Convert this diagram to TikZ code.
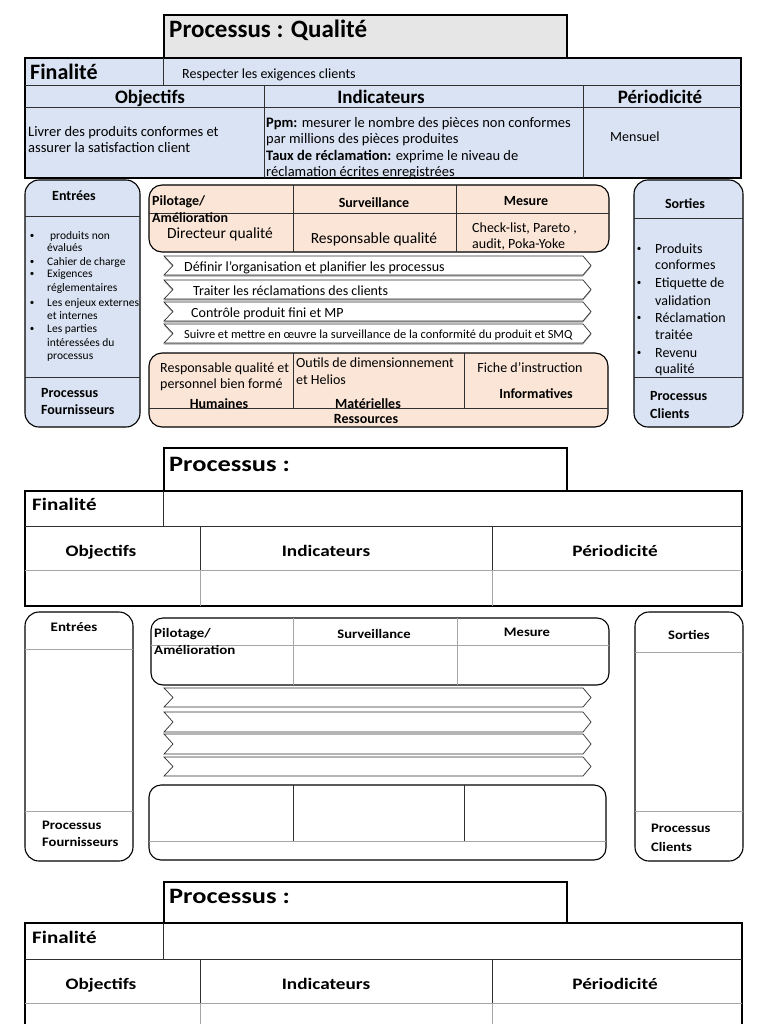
\documentclass[tikz,border=0pt]{standalone}
\usepackage{fontspec}
\setmainfont{Carlito}
\definecolor{bluefill}{HTML}{DAE3F3}
\definecolor{peach}{HTML}{FBE5D6}
\definecolor{titlegray}{HTML}{E7E6E6}
\definecolor{lgray}{HTML}{A6A6A6}
\definecolor{dline}{HTML}{303030}
\tikzset{
  lt/.style={inner sep=0pt, anchor=mid west},
  ct/.style={inner sep=0pt, anchor=mid},
  box/.style={draw=black, line width=1.1pt},
  inl/.style={draw=dline, line width=0.8pt},
  gl/.style={draw=lgray, line width=0.8pt},
  chevbox/.style={draw=dline, line width=0.7pt, fill=white},
  chevsh/.style={fill=black!35},
  f14/.style={font=\fontsize{14}{16}\selectfont, yshift=-3pt},
  f145/.style={font=\fontsize{14.5}{17}\selectfont, yshift=-3pt},
  b14/.style={font=\fontsize{14}{16}\selectfont\bfseries, yshift=-3pt},
  f15/.style={font=\fontsize{15.5}{18}\selectfont, yshift=-3pt},
  fsm/.style={font=\fontsize{11.5}{13}\selectfont, yshift=-2pt},
  fsv/.style={font=\fontsize{12.4}{14}\selectfont, yshift=-2.5pt},
  bul/.style={font=\fontsize{9}{10}\selectfont, yshift=-2pt},
  hd/.style={font=\fontsize{19}{22}\selectfont\bfseries, yshift=-4pt},
  ttl/.style={font=\fontsize{25}{28}\selectfont\bfseries, yshift=-6pt},
  finl/.style={font=\fontsize{22}{26}\selectfont\bfseries, yshift=-5pt},
  ttlb/.style={font=\fontsize{22}{26}\selectfont\bfseries, yshift=-4pt},
  finb/.style={font=\fontsize{17.5}{20}\selectfont\bfseries, yshift=-3pt},
  hdb/.style={font=\fontsize{16}{19}\selectfont\bfseries, yshift=-3pt},
  lb/.style={font=\fontsize{13}{15}\selectfont\bfseries, yshift=-2.5pt},
}
\begin{document}
\begin{tikzpicture}[x=1pt,y=-1pt]
\useasboundingbox (0,0) rectangle (768,1024);
\clip (0,0) rectangle (768,1024);
\fill[white] (0,0) rectangle (768,1024);

%% ================= SECTION 1 =================
\draw[box, fill=titlegray] (164,15) rectangle (567,58);
\node[lt, ttl] (t1) at (169,29) {Processus : Qualité};

\draw[box, fill=bluefill] (25,58) rectangle (741,178);
\draw[inl] (25,85) -- (741,85);
\draw[inl] (25,107) -- (741,107);
\draw[inl] (163,58) -- (163,85);
\draw[inl] (264,85) -- (264,178);
\draw[inl] (583,85) -- (583,178);

\node[lt, finl] (fin1) at (30,72) {Finalité};
\node[lt, f14] (resp1) at (182,73) {Respecter les exigences clients};
\node[ct, hd] (obj1) at (150,97) {Objectifs};
\node[ct, hd] (ind1) at (381,97) {Indicateurs};
\node[ct, hd] (per1) at (660,97) {Périodicité};
\node[lt, f145] (liv1) at (28,131) {Livrer des produits conformes et};
\node[lt, f145] (liv2) at (28,147) {assurer la satisfaction client};
\node[lt, f145] (ia) at (266,122) {\textbf{Ppm:} mesurer le nombre des pièces non conformes};
\node[lt, f145] (ib) at (266,138) {par millions des pièces produites};
\node[lt, f145] (ic) at (266,155) {\textbf{Taux de réclamation:} exprime le niveau de};
\node[lt, f145] (id) at (266,171) {réclamation écrites enregistrées};
\node[lt, f14] (mens) at (610,136) {Mensuel};

% Entrées
\draw[box, fill=bluefill, rounded corners=14pt] (25,180) rectangle (140,427);
\draw[inl] (25,216) -- (140,216);
\draw[inl] (25,377) -- (140,377);
\node[ct, b14] (ent1) at (74,195) {Entrées};
\node[ct, bul] (eb1) at (32,234) {•};
\node[ct, bul] (eb2) at (32,260) {•};
\node[ct, bul] (eb3) at (32,272) {•};
\node[ct, bul] (eb4) at (32,301) {•};
\node[ct, bul] (eb5) at (32,327) {•};
\node[lt, fsm] (e1) at (50,235) {produits non};
\node[lt, fsm] (e2) at (47,247) {évalués};
\node[lt, fsm] (e3) at (47,261) {Cahier de charge};
\node[lt, fsm] (e4) at (47,273) {Exigences};
\node[lt, fsm] (e5) at (47,287) {réglementaires};
\node[lt, fsm] (e6) at (47,302) {Les enjeux externes};
\node[lt, fsm] (e7) at (47,315) {et internes};
\node[lt, fsm] (e8) at (47,328) {Les parties};
\node[lt, fsm] (e9) at (47,342) {intéressées du};
\node[lt, fsm] (e10) at (47,355) {processus};
\node[lt, b14] (pf1) at (41,392) {Processus};
\node[lt, b14] (pf2) at (41,409) {Fournisseurs};

% Pilotage
\draw[box, fill=peach, rounded corners=13pt] (149,185) rectangle (609,252);
\draw[inl] (293,185) -- (293,252);
\draw[inl] (456,185) -- (456,252);
\draw[inl] (149,213) -- (609,213);
\node[lt, b14] (pil1) at (152,200) {Pilotage/};
\node[lt, b14] (ame1) at (152,217) {Amélioration};
\node[ct, f15] (dir1) at (220,233) {Directeur qualité};
\node[ct, b14] (sur1) at (374,202) {Surveillance};
\node[ct, f15] (rq1) at (374,238) {Responsable qualité};
\node[ct, b14] (mes1) at (526,200) {Mesure};
\node[lt, f14] (ck1) at (472,227) {Check-list, Pareto ,};
\node[lt, f14] (ck2) at (472,243) {audit, Poka-Yoke};

% Chevrons
\fill[chevsh] (164,257.5) -- (583,257.5) -- (591,267) -- (583,276.5) -- (164,276.5) -- (173,267) -- cycle;
\fill[chevsh] (164,281.5) -- (583,281.5) -- (591,291) -- (583,300.5) -- (164,300.5) -- (173,291) -- cycle;
\fill[chevsh] (164,303.5) -- (583,303.5) -- (591,313) -- (583,322.5) -- (164,322.5) -- (173,313) -- cycle;
\fill[chevsh] (164,325.5) -- (583,325.5) -- (591,335) -- (583,344.5) -- (164,344.5) -- (173,335) -- cycle;
\draw[chevbox] (164,256) -- (583,256) -- (591,265.5) -- (583,275) -- (164,275) -- (173,265.5) -- cycle;
\draw[chevbox] (164,280) -- (583,280) -- (591,289.5) -- (583,299) -- (164,299) -- (173,289.5) -- cycle;
\draw[chevbox] (164,302) -- (583,302) -- (591,311.5) -- (583,321) -- (164,321) -- (173,311.5) -- cycle;
\draw[chevbox] (164,324) -- (583,324) -- (591,333.5) -- (583,343) -- (164,343) -- (173,333.5) -- cycle;
\node[lt, f14] (c1) at (184,266) {Définir l’organisation et planifier les processus};
\node[lt, f14] (c2) at (193,290) {Traiter les réclamations des clients};
\node[lt, f14] (c3) at (191,312) {Contrôle produit fini et MP};
\node[lt, fsv] (c4) at (184,334) {Suivre et mettre en œuvre la surveillance de la conformité du produit et SMQ};

% Ressources
\draw[box, fill=peach, rounded corners=13pt] (149,353) rectangle (608,427);
\draw[inl] (293,353) -- (293,408);
\draw[inl] (464,353) -- (464,408);
\draw[inl] (149,408) -- (608,408);
\node[lt, f14] (r1) at (160,367) {Responsable qualité et};
\node[lt, f14] (r2) at (160,383) {personnel bien formé};
\node[ct, b14] (hum1) at (219,403) {Humaines};
\node[lt, f14] (o1) at (296,362) {Outils de dimensionnement};
\node[lt, f14] (o2) at (296,379) {et Helios};
\node[ct, b14] (mat1) at (368,403) {Matérielles};
\node[ct, f14] (fi1) at (530,367) {Fiche d’instruction};
\node[ct, b14] (inf1) at (536,393) {Informatives};
\node[ct, b14] (res1) at (366,418) {Ressources};

% Sorties
\draw[box, fill=bluefill, rounded corners=14pt] (634,180) rectangle (743,427);
\draw[inl] (634,218) -- (743,218);
\draw[inl] (634,377) -- (743,377);
\node[ct, b14] (sor1) at (685,203) {Sorties};
\node[ct, bul] (sb1) at (639,247) {•};
\node[ct, bul] (sb2) at (639,281) {•};
\node[ct, bul] (sb3) at (639,316) {•};
\node[ct, bul] (sb4) at (639,351) {•};
\node[lt, f14] (s1) at (655,248) {Produits};
\node[lt, f14] (s2) at (655,264) {conformes};
\node[lt, f14] (s3) at (655,282) {Etiquette de};
\node[lt, f14] (s4) at (655,300) {validation};
\node[lt, f14] (s5) at (655,317) {Réclamation};
\node[lt, f14] (s6) at (655,334) {traitée};
\node[lt, f14] (s7) at (655,352) {Revenu};
\node[lt, f14] (s8) at (655,368) {qualité};
\node[lt, b14] (pc1) at (650,395) {Processus};
\node[lt, b14] (pc2) at (650,413) {Clients};

%% ================= SECTION 2 =================
\draw[box] (164,448) rectangle (567,491);
\node[lt, ttlb] (t2) at (169,465) {\scalebox{1.2}[1]{Processus :}};
\draw[box] (25,491) rectangle (742,606);
\draw[inl] (25,526) -- (742,526);
\draw[inl] (163,491) -- (163,526);
\draw[inl] (200,526) -- (200,570);
\draw[inl] (492,526) -- (492,570);
\draw[gl] (200,570) -- (200,606);
\draw[gl] (492,570) -- (492,606);
\draw[gl] (25,570) -- (742,570);
\node[lt, finb] (fin2) at (32,505) {\scalebox{1.2}[1]{Finalité}};
\node[ct, hdb] (obj2) at (101,551) {\scalebox{1.2}[1]{Objectifs}};
\node[ct, hdb] (ind2) at (326,551) {\scalebox{1.2}[1]{Indicateurs}};
\node[ct, hdb] (per2) at (615,551) {\scalebox{1.2}[1]{Périodicité}};

\draw[box, rounded corners=14pt] (25,612) rectangle (133,861);
\draw[gl] (25,649) -- (133,649);
\draw[gl] (25,811) -- (133,811);
\node[ct, lb] (ent2) at (74,627) {\scalebox{1.15}[1]{Entrées}};
\node[lt, lb] (pf3) at (42,825) {\scalebox{1.12}[1]{Processus}};
\node[lt, lb] (pf4) at (42,842) {\scalebox{1.12}[1]{Fournisseurs}};

\draw[box, rounded corners=12pt] (151,618) rectangle (609,685);
\draw[gl] (293,618) -- (293,685);
\draw[gl] (457,618) -- (457,685);
\draw[gl] (151,645) -- (609,645);
\node[lt, lb] (pil2) at (154,633) {\scalebox{1.15}[1]{Pilotage/}};
\node[lt, lb] (ame2) at (154,650) {\scalebox{1.15}[1]{Amélioration}};
\node[ct, lb] (sur2) at (374,634) {\scalebox{1.12}[1]{Surveillance}};
\node[ct, lb] (mes2) at (527,632) {\scalebox{1.12}[1]{Mesure}};

\draw[chevbox] (164,688) -- (583,688) -- (591,697.5) -- (583,707) -- (164,707) -- (173,697.5) -- cycle;
\draw[chevbox] (164,712) -- (583,712) -- (591,722) -- (583,732) -- (164,732) -- (173,722) -- cycle;
\draw[chevbox] (164,734) -- (583,734) -- (591,744) -- (583,754) -- (164,754) -- (173,744) -- cycle;
\draw[chevbox] (164,757) -- (583,757) -- (591,766.5) -- (583,776) -- (164,776) -- (173,766.5) -- cycle;

\draw[box, rounded corners=12pt] (149,785) rectangle (606,860);
\draw[inl] (293,785) -- (293,841);
\draw[inl] (464,785) -- (464,841);
\draw[gl] (149,841) -- (606,841);

\draw[box, rounded corners=14pt] (635,612) rectangle (743,861);
\draw[gl] (635,652) -- (743,652);
\draw[gl] (635,811) -- (743,811);
\node[ct, lb] (sor2) at (689,635) {\scalebox{1.12}[1]{Sorties}};
\node[lt, lb] (pc3) at (651,828) {\scalebox{1.12}[1]{Processus}};
\node[lt, lb] (pc4) at (651,847) {\scalebox{1.12}[1]{Clients}};

%% ================= SECTION 3 =================
\draw[box] (164,882) rectangle (567,923);
\node[lt, ttlb] (t3) at (169,897) {\scalebox{1.2}[1]{Processus :}};
\draw[box] (25,923) rectangle (742,1040);
\draw[inl] (25,959) -- (742,959);
\draw[inl] (163,923) -- (163,959);
\draw[inl] (200,959) -- (200,1003);
\draw[inl] (492,959) -- (492,1003);
\draw[gl] (200,1003) -- (200,1040);
\draw[gl] (492,1003) -- (492,1040);
\draw[gl] (25,1003) -- (742,1003);
\node[lt, finb] (fin3) at (32,938) {\scalebox{1.2}[1]{Finalité}};
\node[ct, hdb] (obj3) at (101,984) {\scalebox{1.2}[1]{Objectifs}};
\node[ct, hdb] (ind3) at (326,984) {\scalebox{1.2}[1]{Indicateurs}};
\node[ct, hdb] (per3) at (615,984) {\scalebox{1.2}[1]{Périodicité}};
\end{tikzpicture}
\end{document}
